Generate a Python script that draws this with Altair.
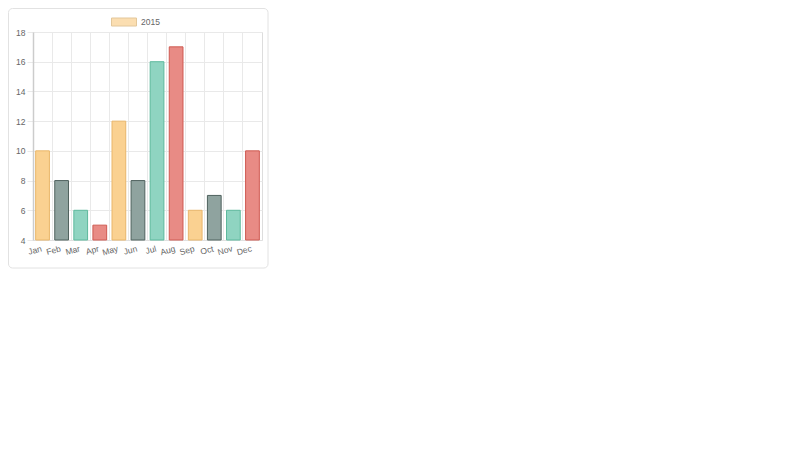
import altair as alt
import pandas as pd

months = ["Jan", "Feb", "Mar", "Apr", "May", "Jun", "Jul", "Aug", "Sep", "Oct", "Nov", "Dec"]
values = [10, 8, 6, 5, 12, 8, 16, 17, 6, 7, 6, 10]
fills = ["#FAD191", "#8FA39F", "#8FD4C1", "#E88B85"] * 3
strokes = ["#E9B66A", "#4F625E", "#5DB99D", "#CF5A52"] * 3
series = "2015"

df = pd.DataFrame({"month": months, "value": values, "fill": fills, "stroke": strokes})
leg_df = pd.DataFrame({"series": [series], "month": [months[0]]})
card_df = pd.DataFrame({"k": [0]})

font = "Liberation Sans"
grid = "#e9e9e9"

x_enc = alt.X(
    "month:N", sort=months, title=None,
    scale=alt.Scale(paddingInner=0, paddingOuter=0),
    axis=alt.Axis(bandPosition=0, grid=True, gridColor=grid, labelAngle=-15,
                  labelAlign="right", labelBaseline="top", labelOffset=-2, labelPadding=4,
                  ticks=False, domainColor="#e0e0e0", labelColor="#666666", labelFontSize=8.5,
                  labelFont=font),
)
y_enc = alt.Y(
    "value:Q", title=None,
    scale=alt.Scale(domain=[4, 18], nice=False, zero=False),
    axis=alt.Axis(values=[4, 6, 8, 10, 12, 14, 16, 18], grid=True, gridColor=grid,
                  ticks=True, tickColor=grid, tickSize=6, labelPadding=2,
                  domainColor="#cccccc", domainWidth=1.5,
                  labelColor="#666666", labelFontSize=8.5, labelFont=font),
)

bars = alt.Chart(df).mark_bar(width={"band": 0.72}, strokeWidth=1).encode(
    x=x_enc,
    y=y_enc,
    y2=alt.datum(4),
    color=alt.Color("fill:N", scale=None),
    stroke=alt.Stroke("stroke:N", scale=None),
)

legend_layer = alt.Chart(leg_df).mark_point(filled=True, size=10).encode(
    x=alt.X("month:N", sort=months),
    y=alt.value(-500),
    fill=alt.Fill("series:N", title=None,
                  scale=alt.Scale(range=["#FAD191"]),
                  legend=alt.Legend(orient="none", legendX=78, legendY=-23,
                                    symbolType="M-1,-0.32L1,-0.32L1,0.32L-1,0.32Z",
                                    symbolSize=625, symbolStrokeColor="#D8B070",
                                    symbolStrokeWidth=1, labelColor="#666666",
                                    labelFontSize=8.5, labelFont=font, labelOffset=4)),
)

card = alt.Chart(card_df).mark_rect(
    fill=None, stroke="#e2e2e2", strokeWidth=1, cornerRadius=4
).encode(
    x=alt.value(-24.5), x2=alt.value(235), y=alt.value(-23.5), y2=alt.value(236)
)

chart = alt.layer(card, bars, legend_layer).properties(
    width=229, height=208,
    autosize=alt.AutoSizeParams(type="none"),
    padding={"left": 25, "top": 24, "right": 20, "bottom": 40},
).configure_view(stroke=grid).configure(background="white")

chart.save("out.html", embed_options={"renderer": "svg", "actions": False})
